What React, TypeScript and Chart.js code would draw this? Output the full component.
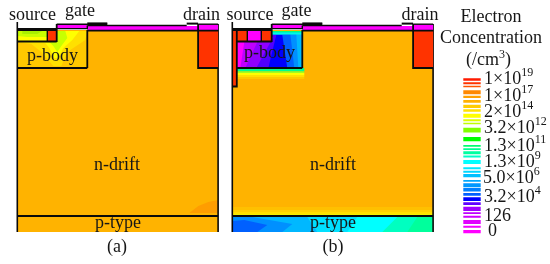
import React, { useEffect, useRef } from "react";
import { Chart, registerables } from "chart.js";

Chart.register(...registerables);

type P = [number, number];

const WIDTH = 550;
const HEIGHT = 264;
const FONT = '"Liberation Serif", "Times New Roman", serif';
const INK = "#161616";

const panelOffsets = [17.3, 232.3];
const deviceWidth = 200.8;
const RED = "#ff3300";
const MAGENTA = "#ff00ff";
const DRIFT = "#ffb300";

// Panel (a) p-body: contour regions, painted in this order
const bodyContoursAColors = ["#ffc800", "#ffe000", "#ffff00", "#c8ff00", "#a8f000"];
const bodyContoursA: P[][] = [
  [[0, 31], [70, 31], [70, 68], [0, 68]],
  [[0, 31], [70, 31], [68, 40], [50, 52], [44, 66], [36, 66], [24, 52], [14, 44], [0, 42]],
  [[0, 31], [62, 31], [55, 40], [46, 48], [41, 58], [37, 58], [32, 48], [28, 43], [0, 42]],
  [[0, 31], [48, 31], [50, 38], [44, 46], [40, 52], [36, 46], [32, 42], [30, 37], [10, 37], [0, 36]],
  [[5, 31], [25, 31], [20, 34], [5, 34]],
];

// Panel (b) p-body: contour regions, painted in this order
const bodyContoursBColors = ["#00b8ff", "#0090ff", "#0060ff", "#0000ff", "#5000ff", "#9000ff", "#c000ff", "#ff00ff"];
const bodyContoursB: P[][] = [
  [[39.4, 31], [70, 31], [70, 68], [4.5, 68], [4.5, 42], [39.4, 42]],
  [[39.4, 34], [64, 34], [66, 68], [4.5, 68], [4.5, 42], [39.4, 42]],
  [[39.4, 34], [58, 34], [62, 68], [4.5, 68], [4.5, 42], [39.4, 42]],
  [[39.4, 35], [50, 35], [55, 68], [4.5, 68], [4.5, 42], [39.4, 42]],
  [[39.4, 35], [44, 35], [36, 68], [4.5, 68], [4.5, 42], [39.4, 42]],
  [[39.4, 37], [41, 37], [24, 68], [4.5, 68], [4.5, 42], [38, 42]],
  [[25, 42], [13, 68], [4.5, 68], [4.5, 42]],
  [[12, 42], [8, 68], [4.5, 68], [4.5, 42]],
];
// Thin bands along the top of the panel (b) notch
const notchBandTop = [31, 32.5];
const notchBandBottom = [32.5, 34.5];
const notchBandColor = ["#00ff80", "#00ffe0"];

// Panel (b) p-type: contour regions, painted in this order
const ptypeContoursColors = ["#00ff9c", "#00ffc0", "#00ffff", "#00e0ff", "#00b8ff", "#0090ff", "#0060ff"];
const ptypeContours: P[][] = [
  [[0, 217], [200.8, 217], [200.8, 232], [0, 232]],
  [[0, 217], [185, 217], [175, 232], [0, 232]],
  [[0, 217], [165, 217], [150, 232], [0, 232]],
  [[0, 217], [125, 217], [115, 232], [0, 232]],
  [[0, 217], [75, 217], [85, 232], [0, 232]],
  [[0, 217], [20, 217], [60, 224], [50, 232], [0, 232]],
  [[0, 221], [12, 220], [35, 225], [25, 232], [0, 232]],
];

// Transition bands under the panel (b) p-body: top depth, bottom depth, colour
const bodyHaloTop = [68, 71.5, 73, 75, 77];
const bodyHaloBottom = [71.5, 73, 75, 77, 79];
const bodyHaloColor = ["#00ff90", "#a0ff20", "#ffff00", "#ffe000", "#ffc800"];

// Transition bands above the panel (b) p-type layer
const driftHaloTop = [207, 210, 212, 214];
const driftHaloBottom = [210, 212, 214, 216];
const driftHaloColor = ["#ffc000", "#ffd000", "#ffe000", "#f0f000"];

// Warmer patch at the bottom right of panel (a)
const patchA: P[] = [[172, 213], [181, 206], [191, 202], [200.8, 200], [200.8, 213]];
const PATCH = "#ff9d00";

// Colour-bar bands
const bandTop = [78.3, 82.3, 85.7, 90.3, 95.7, 100, 104.7, 109.3, 113.7, 119.3, 122.7, 127.7, 137, 145, 148.3, 151.3, 155.6, 160, 167.3, 170.7, 174, 180, 183.3, 188, 193, 197.3, 202.3, 206.7, 212.3, 215.7, 220, 225.7, 230];
const bandBottom = [80.7, 84.3, 87.3, 94.3, 98, 102.7, 108, 111.7, 117.7, 121.3, 124.3, 132.6, 141.3, 146.7, 150, 154.3, 157.6, 164, 169.3, 172.7, 177.3, 181.7, 187.3, 191.5, 195.7, 201, 205, 211, 214, 217.7, 224, 227.7, 233.3];
const bandColor = ["#ff1a00", "#ff3300", "#ff5500", "#ff8800", "#ffa000", "#ffb000", "#ffcc00", "#ffe000", "#ffff00", "#ddff00", "#bfff00", "#80ff00", "#00ff00", "#00ff70", "#00ff90", "#00ffa0", "#00ffc8", "#00ffff", "#00e8ff", "#00d8ff", "#00c0ff", "#00a8ff", "#0098ff", "#0080ff", "#0060ff", "#0000ff", "#6000ff", "#a000ff", "#c000ff", "#d000ff", "#e000ff", "#f000ff", "#ff00ff"];
const BAND_LEFT = 463.3;
const BAND_RIGHT = 480.7;

// Colour-bar tick labels
const tickBase = ["1×10", "1×10", "2×10", "3.2×10", "1.3×10", "1.3×10", "5.0×10", "3.2×10", "126", "0"];
const tickExp = ["19", "17", "14", "12", "11", "9", "6", "4", "", ""];
const tickBaseline = [84, 101, 117, 133, 151, 167, 183, 202, 221, 236];
const tickLeft = [484, 484, 484, 484, 484, 484, 483, 484, 484, 488];

type Label = { t: string; x: number; y: number; size?: number; align?: CanvasTextAlign };
const textLabels: Label[] = [
  { t: "source", x: 9, y: 20 }, { t: "gate", x: 65, y: 16 }, { t: "drain", x: 183, y: 20 },
  { t: "source", x: 226.5, y: 20 }, { t: "gate", x: 281.5, y: 16 }, { t: "drain", x: 401.5, y: 20 },
  { t: "p-body", x: 27, y: 61 }, { t: "p-body", x: 244, y: 58 },
  { t: "n-drift", x: 117, y: 170, align: "center" }, { t: "n-drift", x: 333, y: 170, align: "center" },
  { t: "p-type", x: 95, y: 228 }, { t: "p-type", x: 310, y: 228 },
  { t: "(a)", x: 117, y: 252, align: "center" }, { t: "(b)", x: 333, y: 252, align: "center" },
  { t: "Electron", x: 491, y: 22, align: "center" }, { t: "Concentration", x: 491, y: 43, align: "center" },
];

type Layer = Record<string, unknown>;

const toXY = (pts: P[], dx = 0) => pts.map(([x, y]) => ({ x: x + dx, y }));

const area = (pts: P[], color: string, dx: number): Layer => ({
  type: "scatter",
  data: toXY([...pts, pts[0]], dx),
  showLine: true,
  fill: "shape",
  backgroundColor: color,
  borderColor: color,
  borderWidth: 0,
  pointRadius: 0,
  tension: 0,
});

const box = (x0: number, x1: number, y0: number, y1: number): P[] => [[x0, y0], [x1, y0], [x1, y1], [x0, y1]];

const stroke = (pts: P[], width: number, dx: number): Layer => ({
  type: "scatter",
  data: toXY(pts, dx),
  showLine: true,
  fill: false,
  borderColor: "#0a0a0a",
  borderWidth: width,
  pointRadius: 0,
  tension: 0,
});

function structure(dx: number): Layer[] {
  return [
    stroke([[0, 22], [0, 232]], 1.6, dx),
    stroke([[deviceWidth, 24], [deviceWidth, 232]], 1.6, dx),
    stroke([[0, 216], [deviceWidth, 216]], 1.8, dx),
    area(box(39.4, 70, 25, 28.5), MAGENTA, dx),
    area(box(70, 180.8, 26, 30), MAGENTA, dx),
    area(box(180.8, deviceWidth, 24.5, 30), MAGENTA, dx),
    area(box(180.8, deviceWidth, 31, 68), RED, dx),
    stroke([[39.4, 24.2], [70, 24.2], [90, 24.2]], 1.4, dx),
    stroke([[70, 23.3], [90, 23.3]], 1.8, dx),
    stroke([[39.4, 28.6], [70, 28.6], [70, 25.5]], 1.4, dx),
    stroke([[70, 25.5], [169.4, 25.5]], 1.4, dx),
    stroke([[169.4, 23.6], [180.8, 23.6]], 2, dx),
    stroke([[180.8, 24.2], [deviceWidth, 24.2]], 1.4, dx),
    stroke([[70, 30.6], [deviceWidth, 30.6]], 1.8, dx),
    stroke([[180.8, 24], [180.8, 68], [deviceWidth, 68]], 1.8, dx),
    stroke([[0, 29.6], [39.4, 29.6]], 3, dx),
    stroke([[39.4, 24], [39.4, 42]], 1.8, dx),
    stroke([[70, 30], [70, 68]], 1.8, dx),
  ];
}

function buildLayers(): Layer[] {
  const [a, b] = panelOffsets;
  const layers: Layer[] = [];

  // Panel (a)
  layers.push(area(box(0, deviceWidth, 30, 232), DRIFT, a));
  layers.push(area(patchA, PATCH, a));
  bodyContoursA.forEach((p, i) => layers.push(area(p, bodyContoursAColors[i], a)));
  layers.push(area(box(30, 39.4, 31, 41.5), RED, a));
  layers.push(...structure(a));
  layers.push(stroke([[0, 68], [70, 68]], 1.8, a));
  layers.push(stroke([[0, 41.5], [39.4, 41.5]], 1.8, a));
  layers.push(stroke([[30, 31], [30, 41.5]], 1.4, a));

  // Panel (b)
  layers.push(area(box(0, deviceWidth, 30, 232), DRIFT, b));
  driftHaloTop.forEach((t, i) => layers.push(area(box(0, deviceWidth, t, driftHaloBottom[i]), driftHaloColor[i], b)));
  bodyHaloTop.forEach((t, i) => layers.push(area(box(4.5, 72, t, bodyHaloBottom[i]), bodyHaloColor[i], b)));
  bodyContoursB.forEach((p, i) => layers.push(area(p, bodyContoursBColors[i], b)));
  notchBandTop.forEach((t, i) => layers.push(area(box(39.4, 70, t, notchBandBottom[i]), notchBandColor[i], b)));
  ptypeContours.forEach((p, i) => layers.push(area(p, ptypeContoursColors[i], b)));
  layers.push(area(box(0, 4.5, 31, 86.5), RED, b));
  layers.push(area(box(4.5, 15, 31, 41.5), RED, b));
  layers.push(area(box(15, 29, 31, 41.5), MAGENTA, b));
  layers.push(area(box(29, 39.4, 31, 41.5), RED, b));
  layers.push(...structure(b));
  layers.push(stroke([[4.5, 68], [70, 68]], 1.8, b));
  layers.push(stroke([[4.5, 41.5], [39.4, 41.5]], 1.8, b));
  layers.push(stroke([[4.5, 30], [4.5, 86.5], [0, 86.5]], 1.8, b));
  layers.push(stroke([[15, 31], [15, 41.5]], 1.4, b));
  layers.push(stroke([[29, 31], [29, 41.5]], 1.4, b));

  // Colour bar
  bandTop.forEach((t, i) => layers.push(area(box(BAND_LEFT, BAND_RIGHT, t, bandBottom[i]), bandColor[i], 0)));

  // First dataset is painted last by Chart.js, so hand them over top-first
  return layers.reverse();
}

const textPlugin = {
  id: "figureText",
  afterDatasetsDraw(chart: Chart) {
    const ctx = chart.ctx;
    const sx = chart.scales.x;
    const sy = chart.scales.y;
    const put = (t: string, x: number, y: number, size = 18, align: CanvasTextAlign = "left") => {
      ctx.font = `${size}px ${FONT}`;
      ctx.textAlign = align;
      ctx.textBaseline = "alphabetic";
      ctx.fillStyle = INK;
      ctx.fillText(t, sx.getPixelForValue(x), sy.getPixelForValue(y));
    };
    ctx.save();
    textLabels.forEach((l) => put(l.t, l.x, l.y, l.size, l.align));
    // (/cm3) with its superscript
    put("(/cm", 466, 65);
    ctx.font = `18px ${FONT}`;
    const cm = ctx.measureText("(/cm").width;
    put("3", 466 + cm, 58, 12);
    put(")", 466 + cm + 6, 65);
    tickBase.forEach((t, i) => {
      put(t, tickLeft[i], tickBaseline[i]);
      if (tickExp[i]) {
        ctx.font = `18px ${FONT}`;
        const w = ctx.measureText(t).width;
        put(tickExp[i], tickLeft[i] + w, tickBaseline[i] - 8, 12);
      }
    });
    ctx.restore();
  },
};

export default function App() {
  const ref = useRef<HTMLCanvasElement>(null);
  useEffect(() => {
    if (!ref.current) return;
    const chart = new Chart(ref.current, {
      type: "scatter",
      data: { datasets: buildLayers() as never[] },
      options: {
        animation: false,
        responsive: false,
        events: [],
        layout: { padding: 0, autoPadding: false },
        plugins: { legend: { display: false }, tooltip: { enabled: false }, title: { display: false } },
        scales: {
          x: { type: "linear", display: false, min: 0, max: WIDTH },
          y: { type: "linear", display: false, min: 0, max: HEIGHT, reverse: true },
        },
      },
      plugins: [textPlugin],
    });
    return () => chart.destroy();
  }, []);
  return (
    <canvas
      ref={ref}
      width={WIDTH}
      height={HEIGHT}
      style={{ position: "absolute", left: 0, top: 0, width: WIDTH, height: HEIGHT, display: "block", filter: "blur(0.3px)" }}
    />
  );
}
